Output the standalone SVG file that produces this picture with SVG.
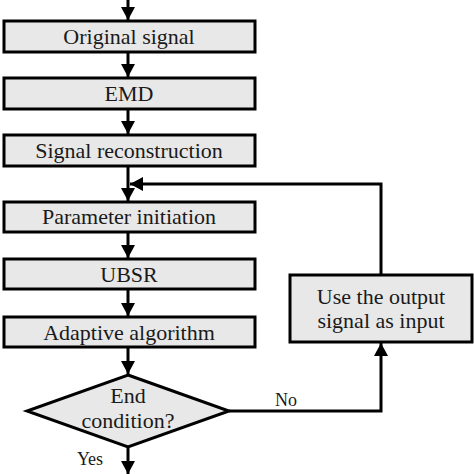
<svg xmlns="http://www.w3.org/2000/svg" width="474" height="474" viewBox="0 0 474 474">
<style>
.box{fill:#e8e8e8;stroke:#000;stroke-width:3}
.t{font-family:"Liberation Serif","DejaVu Serif",serif;font-size:22px;fill:#1a1a1a;text-anchor:middle}
.l{font-family:"Liberation Serif","DejaVu Serif",serif;font-size:18px;fill:#1a1a1a;text-anchor:middle}
.c{fill:none;stroke:#000;stroke-width:3}
</style>
<defs>
<marker id="a" markerUnits="userSpaceOnUse" markerWidth="14" markerHeight="14" refX="13" refY="7" orient="auto">
<path d="M0,0 L13,7 L0,14 Z" fill="#000"/>
</marker>
</defs>
<g id="connectors">
<path class="c" d="M128,0 V20" marker-end="url(#a)"/>
<path class="c" d="M128,52 V77" marker-end="url(#a)"/>
<path class="c" d="M128,109 V134" marker-end="url(#a)"/>
<path class="c" d="M128,166 V201" marker-end="url(#a)"/>
<path class="c" d="M128,232 V258" marker-end="url(#a)"/>
<path class="c" d="M128,289 V316" marker-end="url(#a)"/>
<path class="c" d="M128,347 V374" marker-end="url(#a)"/>
<path class="c" d="M128,447 V474" marker-end="url(#a)"/>
<path class="c" d="M229,411 H381 V343" marker-end="url(#a)"/>
<path class="c" d="M381,275 V184 H130" marker-end="url(#a)"/>
<text class="l" x="286" y="406">No</text>
<text class="l" x="90" y="465">Yes</text>
</g>
<g id="original">
<rect class="box" x="4" y="21" width="251" height="31"/>
<text class="t" x="129" y="44">Original signal</text>
</g>
<g id="emd">
<rect class="box" x="4" y="78" width="251" height="31"/>
<text class="t" x="129" y="101">EMD</text>
</g>
<g id="reconstruction">
<rect class="box" x="4" y="135" width="251" height="31"/>
<text class="t" x="129" y="158">Signal reconstruction</text>
</g>
<g id="param">
<rect class="box" x="4" y="202" width="251" height="30"/>
<text class="t" x="129" y="224">Parameter initiation</text>
</g>
<g id="ubsr">
<rect class="box" x="4" y="259" width="251" height="30"/>
<text class="t" x="129" y="282">UBSR</text>
</g>
<g id="adaptive">
<rect class="box" x="4" y="317" width="251" height="30"/>
<text class="t" x="129" y="340">Adaptive algorithm</text>
</g>
<g id="end">
<path class="box" d="M128,375 L229,411 L128,447 L27,411 Z"/>
<text class="t" x="128" y="403">End</text>
<text class="t" x="128" y="428">condition?</text>
</g>
<g id="use">
<rect class="box" x="290" y="275" width="182" height="67"/>
<text class="t" x="381" y="304">Use the output</text>
<text class="t" x="381" y="328">signal as input</text>
</g>
</svg>
